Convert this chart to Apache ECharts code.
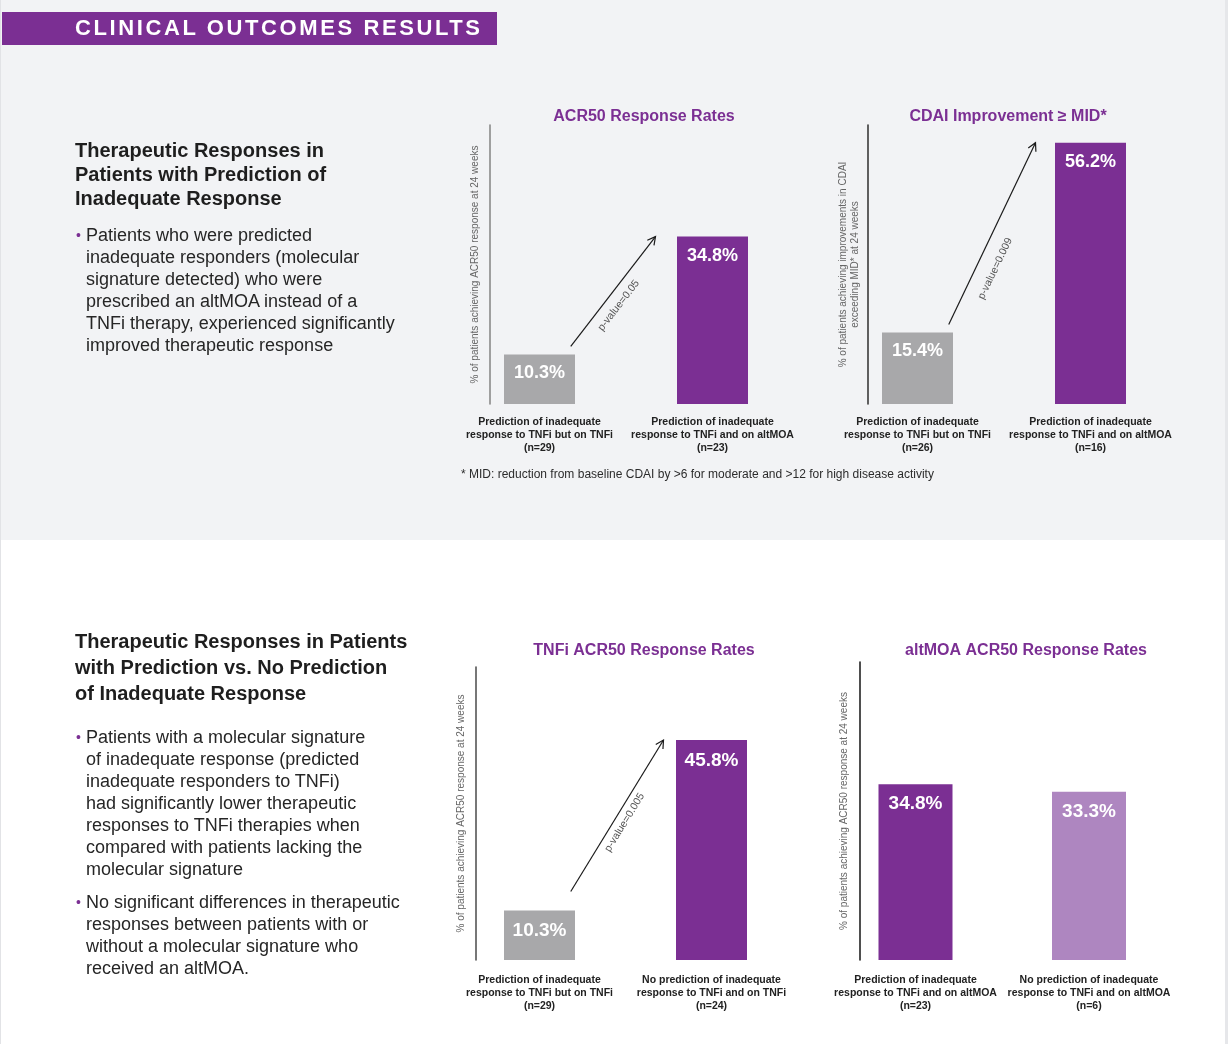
<!DOCTYPE html>
<html>
<head>
<meta charset="utf-8">
<script src="https://cdn.jsdelivr.net/npm/echarts@6/dist/echarts.min.js"></script>
<style>
  html, body { margin: 0; padding: 0; background: #ffffff; }
  #page { position: relative; width: 1228px; height: 1044px; overflow: hidden; font-family: 'Liberation Sans', Arial, sans-serif; }
  .bg-top { position: absolute; left: 0; top: 0; width: 1228px; height: 540px; background: #f2f3f5; }
  .edge-l { position: absolute; left: 0; top: 0; width: 1px; height: 1044px; background: #e2e3e6; }
  .edge-r { position: absolute; left: 1225px; top: 0; width: 3px; height: 1044px; background: #e6e7ea; }
  #chart { position: absolute; left: 0; top: 0; width: 1228px; height: 1044px; }
  .header { position: absolute; left: 2px; top: 12px; width: 495px; height: 33px; background: #7b2f93; }
  .header span { position: absolute; left: 73px; top: -1px; line-height: 33px; font-size: 22px; font-weight: bold; color: #ffffff; letter-spacing: 2.6px; white-space: nowrap; }
  .heading { position: absolute; left: 75px; font-size: 20px; font-weight: bold; color: #1e1e1e; white-space: nowrap; }
  .bullet { position: absolute; left: 86px; font-size: 18px; line-height: 22px; color: #262626; white-space: nowrap; }
  .bullet::before { content: "\2022"; position: absolute; left: -10px; top: 0; color: #7b2f93; font-size: 14px; }
  .foot { position: absolute; left: 461px; top: 467px; font-size: 12px; line-height: 15px; color: #2c2c2c; white-space: nowrap; }
</style>
</head>
<body>
<div id="page">
  <div class="bg-top"></div>
  <div class="edge-l"></div>
  <div class="edge-r"></div>
  <div id="chart"></div>
  <div class="header"><span>CLINICAL OUTCOMES RESULTS</span></div>

  <div class="heading" style="top:138px; line-height:24px;">Therapeutic Responses in<br>Patients with Prediction of<br>Inadequate Response</div>
  <div class="bullet" style="top:224px;">Patients who were predicted<br>inadequate responders (molecular<br>signature detected) who were<br>prescribed an altMOA instead of a<br>TNFi therapy, experienced significantly<br>improved therapeutic response</div>

  <div class="foot">* MID: reduction from baseline CDAI by &gt;6 for moderate and &gt;12 for high disease activity</div>

  <div class="heading" style="top:628px; line-height:26px;">Therapeutic Responses in Patients<br>with Prediction vs. No Prediction<br>of Inadequate Response</div>
  <div class="bullet" style="top:726px;">Patients with a molecular signature<br>of inadequate response (predicted<br>inadequate responders to TNFi)<br>had significantly lower therapeutic<br>responses to TNFi therapies when<br>compared with patients lacking the<br>molecular signature</div>
  <div class="bullet" style="top:891px;">No significant differences in therapeutic<br>responses between patients with or<br>without a molecular signature who<br>received an altMOA.</div>
</div>

<script>
// ---------- DATA ----------
const acr50Categories = ['Prediction of inadequate\nresponse to TNFi but on TNFi\n(n=29)', 'Prediction of inadequate\nresponse to TNFi and on altMOA\n(n=23)'];
const acr50Values = [10.3, 34.8];

const cdaiCategories = ['Prediction of inadequate\nresponse to TNFi but on TNFi\n(n=26)', 'Prediction of inadequate\nresponse to TNFi and on altMOA\n(n=16)'];
const cdaiValues = [15.4, 56.2];

const tnfiCategories = ['Prediction of inadequate\nresponse to TNFi but on TNFi\n(n=29)', 'No prediction of inadequate\nresponse to TNFi and on TNFi\n(n=24)'];
const tnfiValues = [10.3, 45.8];

const altmoaCategories = ['Prediction of inadequate\nresponse to TNFi and on altMOA\n(n=23)', 'No prediction of inadequate\nresponse to TNFi and on altMOA\n(n=6)'];
const altmoaValues = [34.8, 33.3];

const chartTitles = ['ACR50 Response Rates', 'CDAI Improvement \u2265 MID*', 'TNFi ACR50 Response Rates', 'altMOA ACR50 Response Rates'];
const yAxisNames = [
  '% of patients achieving ACR50 response at 24 weeks',
  '% of patients achieving improvements in CDAI\nexceeding MID* at 24 weeks',
  '% of patients achieving ACR50 response at 24 weeks',
  '% of patients achieving ACR50 response at 24 weeks'
];
const pValueLabels = ['p-value=0.05', 'p-value=0.009', 'p-value=0.005', null];

// ---------- LAYOUT / STYLE ----------
const PURPLE = '#7b2f93', GRAY = '#a8a8aa', LILAC = '#ae86c0';
const panels = [
  { cats: acr50Categories, vals: acr50Values, grid: { left: 453, top: 125, width: 346, height: 279 }, max: 58, axisOffset: -37, axisColor: '#8a8a8a', nameGap: 9, barWidth: 71, colors: [GRAY, PURPLE], labelSize: 18, labelDist: 10, catMargin: 12, titleX: 644, titleY: 117, arrow: { gap: 8, endOff: 57, t: 0.445, perp: 13 } },
  { cats: cdaiCategories, vals: cdaiValues, grid: { left: 831, top: 125, width: 346, height: 279 }, max: 60, axisOffset: -37, axisColor: '#3a3a3a', nameGap: 7, barWidth: 71, colors: [GRAY, PURPLE], labelSize: 18, labelDist: 10, catMargin: 12, titleX: 1008, titleY: 117, arrow: { gap: 8, endOff: 55, t: 0.35, perp: 18 } },
  { cats: tnfiCategories, vals: tnfiValues, grid: { left: 453.5, top: 667, width: 344, height: 293 }, max: 61, axisOffset: -22.5, axisColor: '#555555', nameGap: 9, barWidth: 71, colors: [GRAY, PURPLE], labelSize: 19, labelDist: 11, catMargin: 14, titleX: 644, titleY: 651, arrow: { gap: 19, endOff: 48, t: 0.49, perp: 10 } },
  { cats: altmoaCategories, vals: altmoaValues, grid: { left: 828.75, top: 662, width: 347, height: 298 }, max: 59, axisOffset: -31, axisColor: '#222222', nameGap: 10, barWidth: 74, colors: [PURPLE, LILAC], labelSize: 19, labelDist: 10, catMargin: 14, titleX: 1026, titleY: 651, arrow: null }
];

const FONT = "'Liberation Sans', Arial, sans-serif";
const chart = echarts.init(document.getElementById('chart'), null, { renderer: 'canvas' });

const option = {
  animation: false,
  backgroundColor: 'transparent',
  grid: panels.map(p => Object.assign({ containLabel: false }, p.grid)),
  xAxis: panels.map((p, i) => ({
    type: 'category', gridIndex: i, data: p.cats,
    axisLine: { show: false }, axisTick: { show: false },
    axisLabel: { interval: 0, margin: p.catMargin, fontFamily: FONT, fontSize: 10.5, fontWeight: 'bold', color: '#222222', lineHeight: 13, align: 'center' }
  })),
  yAxis: panels.map((p, i) => ({
    type: 'value', gridIndex: i, min: 0, max: p.max, offset: p.axisOffset,
    axisLine: { show: true, lineStyle: { color: p.axisColor, width: 1.6 } },
    axisTick: { show: false }, axisLabel: { show: false }, splitLine: { show: false },
    name: yAxisNames[i], nameLocation: 'middle', nameGap: p.nameGap,
    nameTextStyle: { fontFamily: FONT, fontSize: 10, color: '#666666', lineHeight: 12 }
  })),
  series: panels.map((p, i) => ({
    type: 'bar', xAxisIndex: i, yAxisIndex: i, data: p.vals, barWidth: p.barWidth,
    itemStyle: { color: params => p.colors[params.dataIndex] },
    label: { show: true, position: 'insideTop', distance: p.labelDist, color: '#ffffff', fontFamily: FONT, fontWeight: 'bold', fontSize: p.labelSize, formatter: params => params.value.toFixed(1) + '%' }
  }))
};
chart.setOption(option);

// ---------- titles + arrows (positions from the library's scales) ----------
const graphics = [];
panels.forEach((p, i) => {
  graphics.push({ type: 'text', x: p.titleX, y: p.titleY, silent: true,
    style: { text: chartTitles[i], fill: PURPLE, font: "bold 16px " + FONT, textAlign: 'center', textVerticalAlign: 'middle' } });
  if (!p.arrow || !pValueLabels[i]) return;
  const a = chart.convertToPixel({ gridIndex: i }, [0, p.vals[0]]);
  const b = chart.convertToPixel({ gridIndex: i }, [1, p.vals[1]]);
  const s = [a[0] + p.barWidth * 0.44, a[1] - p.arrow.gap];
  const e = [b[0] - p.arrow.endOff, b[1]];
  const dx = e[0] - s[0], dy = e[1] - s[1];
  const len = Math.sqrt(dx * dx + dy * dy);
  const ux = dx / len, uy = dy / len;
  const head = 9, ang = 28 * Math.PI / 180;
  const rot = (x, y, t) => [x * Math.cos(t) - y * Math.sin(t), x * Math.sin(t) + y * Math.cos(t)];
  const h1 = rot(-ux, -uy, ang), h2 = rot(-ux, -uy, -ang);
  graphics.push({ type: 'line', silent: true, shape: { x1: s[0], y1: s[1], x2: e[0], y2: e[1] }, style: { stroke: '#1a1a1a', lineWidth: 1.2 } });
  graphics.push({ type: 'polyline', silent: true, shape: { points: [[e[0] + h1[0] * head, e[1] + h1[1] * head], e, [e[0] + h2[0] * head, e[1] + h2[1] * head]] }, style: { stroke: '#1a1a1a', lineWidth: 1.2, fill: null } });
  const px = -uy, py = ux;
  const tx = s[0] + dx * p.arrow.t + px * p.arrow.perp;
  const ty = s[1] + dy * p.arrow.t + py * p.arrow.perp;
  graphics.push({ type: 'text', silent: true, x: tx, y: ty, rotation: Math.atan2(-dy, dx),
    style: { text: pValueLabels[i], fill: '#555555', font: "10.5px " + FONT, textAlign: 'center', textVerticalAlign: 'middle' } });
});
chart.setOption({ graphic: graphics });
</script>
</body>
</html>
